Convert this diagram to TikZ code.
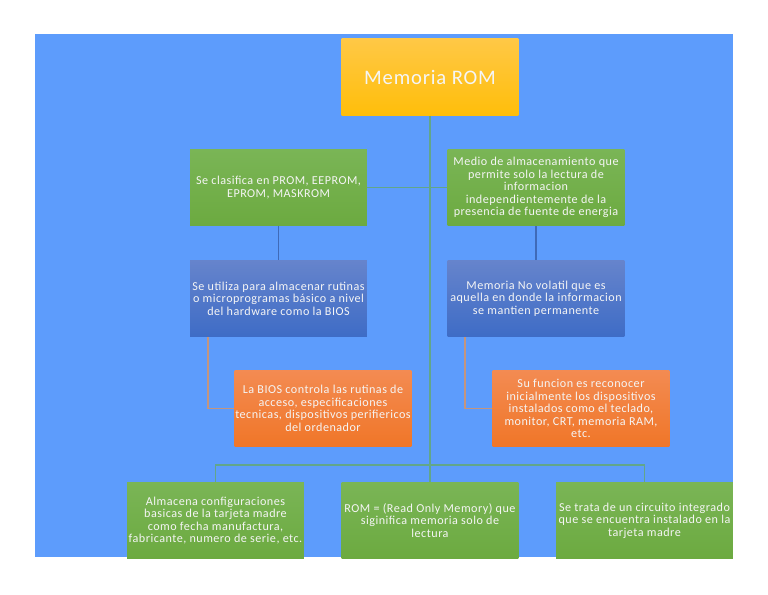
\documentclass[tikz,border=0pt]{standalone}
\usepackage{fontspec}
\setmainfont{Carlito}[LetterSpace=4]
\usetikzlibrary{positioning}

\definecolor{fondo}{HTML}{5D9CFC}
\definecolor{oroA}{HTML}{FFC846}
\definecolor{oroB}{HTML}{FFBE0A}
\definecolor{verdeA}{HTML}{7AB556}
\definecolor{verdeB}{HTML}{6CAA40}
\definecolor{azulA}{HTML}{6684CC}
\definecolor{azulB}{HTML}{3E6CC6}
\definecolor{naranjaA}{HTML}{F38B52}
\definecolor{naranjaB}{HTML}{F07628}
\definecolor{lineaverde}{HTML}{62A68A}
\definecolor{lineaazul}{HTML}{3F6AB8}
\definecolor{lineanaranja}{HTML}{C4957E}

\begin{document}
\begin{tikzpicture}[x=0.75pt,y=-0.75pt,
	caja/.style={minimum width=132.5pt, minimum height=57.5pt, inner sep=0.5pt,
		align=center, text=white!96!black,
		font=\fontsize{9.1}{9.4}\selectfont},
	verde/.style={caja, top color=verdeA, bottom color=verdeB},
	azul/.style={caja, top color=azulA, bottom color=azulB},
	naranja/.style={caja, top color=naranjaA, bottom color=naranjaB},
	titulo/.style={caja, top color=oroA, bottom color=oroB, font=\fontsize{15.5}{18}\selectfont},
	rama/.style={line width=1.2pt}]
	\useasboundingbox (0,0) rectangle (768,594);
	\fill[fondo] (35,34) rectangle (733,557);
	\node[titulo] (rom) at (430,77) {Memoria ROM};
	\node[verde] (clasif) at (278.5,187.5) {Se clasifica en PROM, EEPROM,\\EPROM, MASKROM};
	\node[verde] (medio) at (536,187.5) {Medio de almacenamiento que\\permite solo la lectura de\\informacion\\independientemente de la\\presencia de fuente de energia};
	\node[azul] (utiliza) at (278.5,298.5) {Se utiliza para almacenar rutinas\\o microprogramas b\'asico a nivel\\del hardware como la BIOS};
	\node[azul] (volatil) at (536,298.5) {Memoria No volatil que es\\aquella en donde la informacion\\se mantien permanente};
	\node[naranja] (bios) at (323,408.5) {La BIOS controla las rutinas de\\acceso, especificaciones\\tecnicas, dispositivos perifiericos\\del ordenador};
	\node[naranja] (funcion) at (581,408.5) {Su funcion es reconocer\\inicialmente los dispositivos\\instalados como el teclado,\\monitor, CRT, memoria RAM,\\etc.};
	\node[verde] (almac) at (215.5,520.5) {Almacena configuraciones\\basicas de la tarjeta madre\\como fecha manufactura,\\fabricante, numero de serie, etc.};
	\node[verde] (lectura) at (430,520.5) {ROM = (Read Only Memory) que\\siginifica memoria solo de\\lectura};
	\node[verde] (circ) at (644.5,520.5) {Se trata de un circuito integrado\\que se encuentra instalado en la\\tarjeta madre};
	\coordinate (bus) at (430,465);
	\draw[rama, lineaverde] (rom.south) -- (lectura.north);
	\draw[rama, lineaverde] (clasif.east) -- (medio.west);
	\draw[rama, lineaverde] (almac.north) |- (bus) -| (circ.north);
	\draw[rama, lineaazul] (clasif.south) -- (utiliza.north);
	\draw[rama, lineaazul] (medio.south) -- (volatil.north);
	\draw[rama, lineanaranja] (utiliza.south) ++(-70.5,0) |- (bios.west);
	\draw[rama, lineanaranja] (volatil.south) ++(-71,0) |- (funcion.west);
\end{tikzpicture}
\end{document}
